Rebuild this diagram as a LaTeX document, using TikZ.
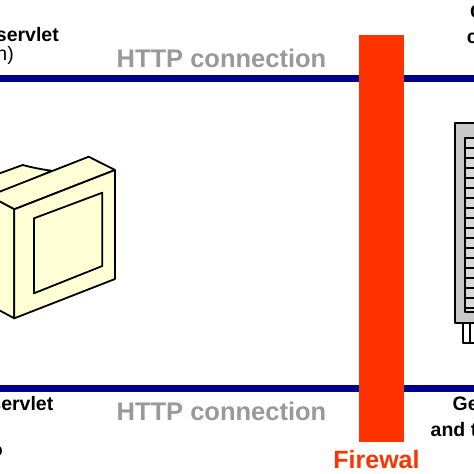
\documentclass[tikz,border=0pt]{standalone}
\usepackage{fontspec}
\setmainfont{Liberation Sans}
\definecolor{linkblue}{HTML}{00008F}
\definecolor{wallred}{HTML}{FF3300}
\definecolor{labelgrey}{HTML}{999999}
\definecolor{crt}{HTML}{FFFFD6}
\definecolor{rack}{HTML}{C8C8C8}
\definecolor{slot}{HTML}{DADADA}
\tikzset{
  link/.style={draw=linkblue,line width=7.3pt},
  httplabel/.style={text=labelgrey,font=\fontsize{25.5}{25.5}\selectfont\bfseries,inner sep=0pt,anchor=base},
  tag/.style={text=black,font=\fontsize{19.5}{19.5}\selectfont\bfseries,inner sep=0pt},
  plaintag/.style={text=black,font=\fontsize{19.5}{19.5}\selectfont,inner sep=0pt},
  wire/.style={draw=black,line width=1.8pt,line join=round},
  crtface/.style={wire,fill=crt},
  rackface/.style={wire,fill=rack},
  slotface/.style={wire,fill=slot}
}
\begin{document}
\begin{tikzpicture}[x=1pt,y=-1pt]
\useasboundingbox (0,0) rectangle (474,474);
\clip (0,0) rectangle (474,474);
% connections
\coordinate (tl) at (-5,78.4); \coordinate (tr) at (480,78.4);
\coordinate (bl) at (-5,388.5); \coordinate (br) at (480,388.5);
\draw[link] (tl) -- (tr);
\draw[link] (bl) -- (br);
% firewall
\fill[wallred] (359,35.3) rectangle (403.7,442.3);
% monitor
\filldraw[crtface] (-5,175) -- (22.7,165) .. controls (32,167.5) and (42,169.5) .. (51.7,170.7) -- (0,195) -- (-5,195) -- cycle;
\filldraw[crtface] (-5,193.5) -- (88.7,156.7) -- (115,170) -- (14.3,209.3) -- (-5,199) -- cycle;
\filldraw[crtface] (-5,199) -- (14.3,209.3) -- (14.3,318.3) -- (-5,308) -- cycle;
\filldraw[crtface] (14.3,209.3) -- (115,170) -- (115,279) -- (14.3,318.3) -- cycle;
\filldraw[crtface] (34,218.3) -- (102.3,192.7) -- (102.3,266) -- (34,293.3) -- cycle;
% server
\filldraw[wire,fill=white] (462.7,323.3) rectangle (470,343);
\filldraw[wire,fill=white] (470,323.3) rectangle (480,343);
\filldraw[rackface] (455,123.3) rectangle (480,323.3);
\foreach \yy in {138.3,148.3,158.3,168.3,178.3,188.3,198.3,208.3,218.3,228.3,238.3,248.3,258.3,268.3,278.3,288.3,298.3}{
  \filldraw[slotface] (465.3,\yy) rectangle (480,\yy+10);
}
\filldraw[slotface] (465.3,308.3) rectangle (480,312.3);
% labels
\node[httplabel] (h1) at (221.5,67) {HTTP connection};
\node[httplabel] (h2) at (221.5,420) {HTTP connection};
\node[text=wallred,font=\fontsize{25}{25}\selectfont\bfseries,inner sep=0pt,anchor=base] (fw) at (376.5,468) {Firewal};
\node[tag,anchor=base east] (t1) at (59,41) {servlet};
\node[plaintag,anchor=base east] (t2) at (14,60) {n)};
\node[tag,anchor=base east] (t3) at (53.5,410) {servlet};
\node[tag,anchor=base east] (t4) at (3,456) {o};
\node[tag,anchor=base west] (t5) at (452.5,410) {Ge};
\node[tag,anchor=base west] (t6) at (430.5,436) {and t};
\node[tag,anchor=base west] (t7) at (470,18) {G};
\node[tag,anchor=base west] (t8) at (466.7,43) {c};
\end{tikzpicture}
\end{document}
